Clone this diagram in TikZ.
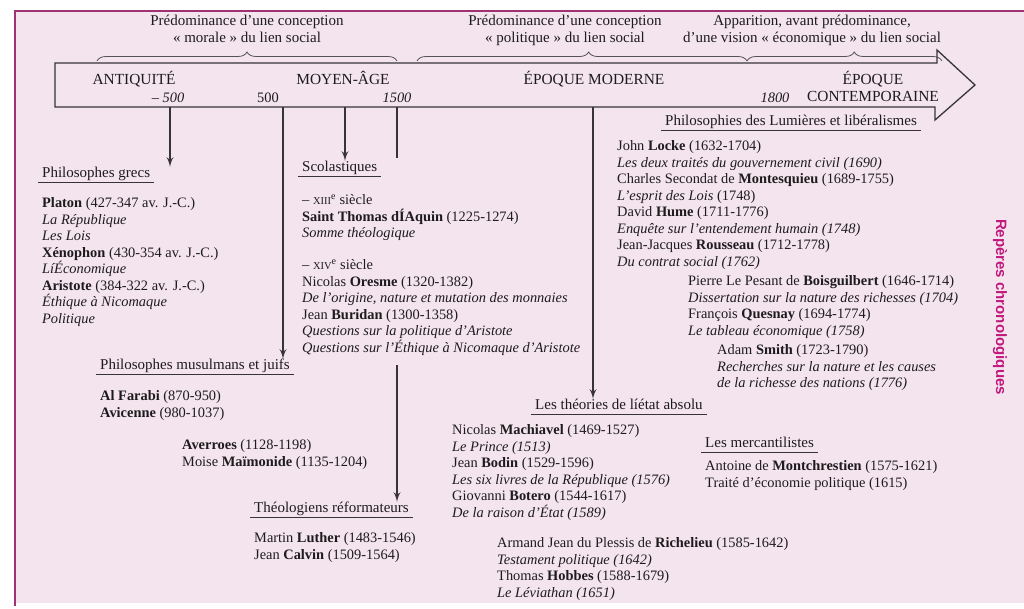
\documentclass[tikz,border=0pt]{standalone}
\usepackage{fontspec}
\setmainfont{Liberation Serif}
\newfontfamily\sidefont{Liberation Sans}
\usetikzlibrary{arrows}
\usetikzlibrary{decorations.markings}
\usetikzlibrary{decorations.pathreplacing}
\tikzset{->/.style = {decoration={markings,
                                  mark=at position 1 with {\arrow[scale=1.5]{latex'}}},
                      postaction={decorate}}}
\definecolor{bgpink}{RGB}{243,228,238}
\definecolor{framemag}{RGB}{158,50,116}
\definecolor{sidemag}{RGB}{194,24,126}
\definecolor{ink}{RGB}{30,27,28}
\definecolor{lineink}{RGB}{55,52,56}
\tikzset{entry/.style = {anchor=north west, yshift=11.55pt, align=left, inner sep=0pt, text=ink,
                         font=\fontsize{14.4}{16.5}\selectfont, execute at begin node=\strut}}
\tikzset{heading/.style = {anchor=base west, inner xsep=4pt, inner ysep=0pt,
                           text height=10pt, text depth=5pt, text=ink,
                           font=\fontsize{15}{17}\selectfont}}
\tikzset{rule/.style = {lineink, line width=1.3pt}}
\tikzset{era/.style = {anchor=north, yshift=12.25pt, align=center, inner sep=0pt, text=ink,
                       font=\fontsize{15}{17.5}\selectfont, execute at begin node=\strut}}
\tikzset{period/.style = {anchor=north, yshift=11.9pt, align=center, inner sep=0pt, text=ink,
                          font=\fontsize{15.4}{17}\selectfont, execute at begin node=\strut}}
\tikzset{datemark/.style = {anchor=base, inner sep=0pt, text=ink,
                            font=\fontsize{14.4}{16.5}\selectfont}}
\tikzset{link/.style = {lineink, line width=1.2pt, shorten >=8pt}}
\tikzset{bracket/.style = {decorate, decoration={brace, amplitude=9pt, aspect=#1},
                           lineink!85, line width=0.8pt}}

\begin{document}
\begin{tikzpicture}[x=1pt, y=-1pt]
      \useasboundingbox (0,0) rectangle (1024,608);
      \fill [bgpink] (15,11) rectangle (1024,603);
      \draw [framemag, line width=2.5pt] (1024,11) -- (15,11) -- (15,606);

      \draw [bracket=0.5] (97,61) -- (397,61);
      \draw [bracket=0.52] (417,61) -- (747,61);
      \draw [bracket=0.55] (747,61) -- (942,61);
      \node [era] (morale) at (247,27) {Prédominance d’une conception\\« morale » du lien social};
      \node [era] (politique) at (565,27) {Prédominance d’une conception\\« politique » du lien social};
      \node [era] (economique) at (812,27) {Apparition, avant prédominance,\\d’une vision « économique » du lien social};

      \draw [lineink, line width=1.3pt] (55,63) -- (937,63) -- (937,50) -- (975,85) -- (935,120) -- (935,107) -- (55,107) -- cycle;
      \node [period] (antiquite) at (134,83) {ANTIQUITÉ};
      \node [period] (moyenage) at (343,83) {MOYEN-ÂGE};
      \node [period] (moderne) at (594,83) {ÉPOQUE MODERNE};
      \node [period] (contemporaine) at (873,83) {ÉPOQUE\\CONTEMPORAINE};
      \node [datemark] (d-500) at (168,102) {\textit{– 500}};
      \node [datemark] (d500) at (268,102) {500};
      \node [datemark] (d1500) at (397,102) {\textit{1500}};
      \node [datemark] (d1800) at (775,102) {\textit{1800}};

      \coordinate (k-500) at (170,107);
      \coordinate (k500) at (283,107);
      \coordinate (kmid) at (345,107);
      \coordinate (k1500) at (397,107);
      \coordinate (k1500end) at (397,158);
      \coordinate (kmod) at (593,107);
      \coordinate (reforme) at (397,365);

      \node [heading] (grecs) at (38,177) {Philosophes grecs};
      \node [heading] (musulmans) at (96,369) {Philosophes musulmans et juifs};
      \node [heading] (theologiens) at (250,512) {Théologiens réformateurs};
      \node [heading] (scolastiques) at (298,171) {Scolastiques};
      \node [heading] (lumieres) at (661,125) {Philosophies des Lumières et libéralismes};
      \node [heading] (absolu) at (531,409) {Les théories de líétat absolu};
      \node [heading] (mercantilistes) at (701,447) {Les mercantilistes};
      \foreach \h in {grecs, musulmans, theologiens, scolastiques, lumieres, absolu, mercantilistes}
        \draw [rule] (\h.south west) -- (\h.south east);

      \draw [link, ->] (k-500) -- (k-500 |- grecs.north);
      \draw [link, ->] (k500) -- (k500 |- musulmans.north);
      \draw [link, ->] (kmid) -- (kmid |- scolastiques.north);
      \draw [link, shorten >=0pt] (k1500) -- (k1500end);
      \draw [link, ->] (kmod) -- (kmod |- absolu.north);
      \draw [link, ->] (reforme) -- (reforme |- theologiens.north);

      \node [entry] (platon) at (42,209) {\textbf{Platon} (427-347 av. J.-C.)\\\textit{La République}\\\textit{Les Lois}\\\textbf{Xénophon} (430-354 av. J.-C.)\\\textit{LíÉconomique}\\\textbf{Aristote} (384-322 av. J.-C.)\\\textit{Éthique à Nicomaque}\\\textit{Politique}};
      \node [entry] (farabi) at (100,402) {\textbf{Al Farabi} (870-950)\\\textbf{Avicenne} (980-1037)};
      \node [entry] (averroes) at (182,451) {\textbf{Averroes} (1128-1198)\\Moise \textbf{Maïmonide} (1135-1204)};
      \node [entry] (luther) at (254,544) {Martin \textbf{Luther} (1483-1546)\\Jean \textbf{Calvin} (1509-1564)};
      \node [entry] (aquin) at (302,206) {– {\fontsize{10.5}{12}\selectfont XIII}\textsuperscript{e} siècle\\\textbf{Saint Thomas dÍAquin} (1225-1274)\\\textit{Somme théologique}};
      \node [entry] (oresme) at (302,271) {– {\fontsize{10.5}{12}\selectfont XIV}\textsuperscript{e} siècle\\Nicolas \textbf{Oresme} (1320-1382)\\\textit{De l’origine, nature et mutation des monnaies}\\Jean \textbf{Buridan} (1300-1358)\\\textit{Questions sur la politique d’Aristote}\\\textit{Questions sur l’Éthique à Nicomaque d’Aristote}};

      \node [entry] (locke) at (617,152) {John \textbf{Locke} (1632-1704)\\\textit{Les deux traités du gouvernement civil (1690)}\\Charles Secondat de \textbf{Montesquieu} (1689-1755)\\\textit{L’esprit des Lois} (1748)\\David \textbf{Hume} (1711-1776)\\\textit{Enquête sur l’entendement humain (1748)}\\Jean-Jacques \textbf{Rousseau} (1712-1778)\\\textit{Du contrat social (1762)}};
      \node [entry] (boisguilbert) at (688,287) {Pierre Le Pesant de \textbf{Boisguilbert} (1646-1714)\\\textit{Dissertation sur la nature des richesses (1704)}\\François \textbf{Quesnay} (1694-1774)\\\textit{Le tableau économique (1758)}};
      \node [entry] (smith) at (717,356) {Adam \textbf{Smith} (1723-1790)\\\textit{Recherches sur la nature et les causes}\\\textit{de la richesse des nations (1776)}};

      \node [entry] (machiavel) at (452,436) {Nicolas \textbf{Machiavel} (1469-1527)\\\textit{Le Prince (1513)}\\Jean \textbf{Bodin} (1529-1596)\\\textit{Les six livres de la République (1576)}\\Giovanni \textbf{Botero} (1544-1617)\\\textit{De la raison d’État (1589)}};
      \node [entry] (richelieu) at (497,549) {Armand Jean du Plessis de \textbf{Richelieu} (1585-1642)\\\textit{Testament politique (1642)}\\Thomas \textbf{Hobbes} (1588-1679)\\\textit{Le Léviathan (1651)}};
      \node [entry] (montchrestien) at (705,472) {Antoine de \textbf{Montchrestien} (1575-1621)\\Traité d’économie politique (1615)};

      \node [rotate=-90, inner sep=0pt, text=sidemag, font=\sidefont\bfseries\fontsize{15}{17}\selectfont] (reperes) at (1000,307) {Repères chronologiques};
    \end{tikzpicture}
\end{document}
